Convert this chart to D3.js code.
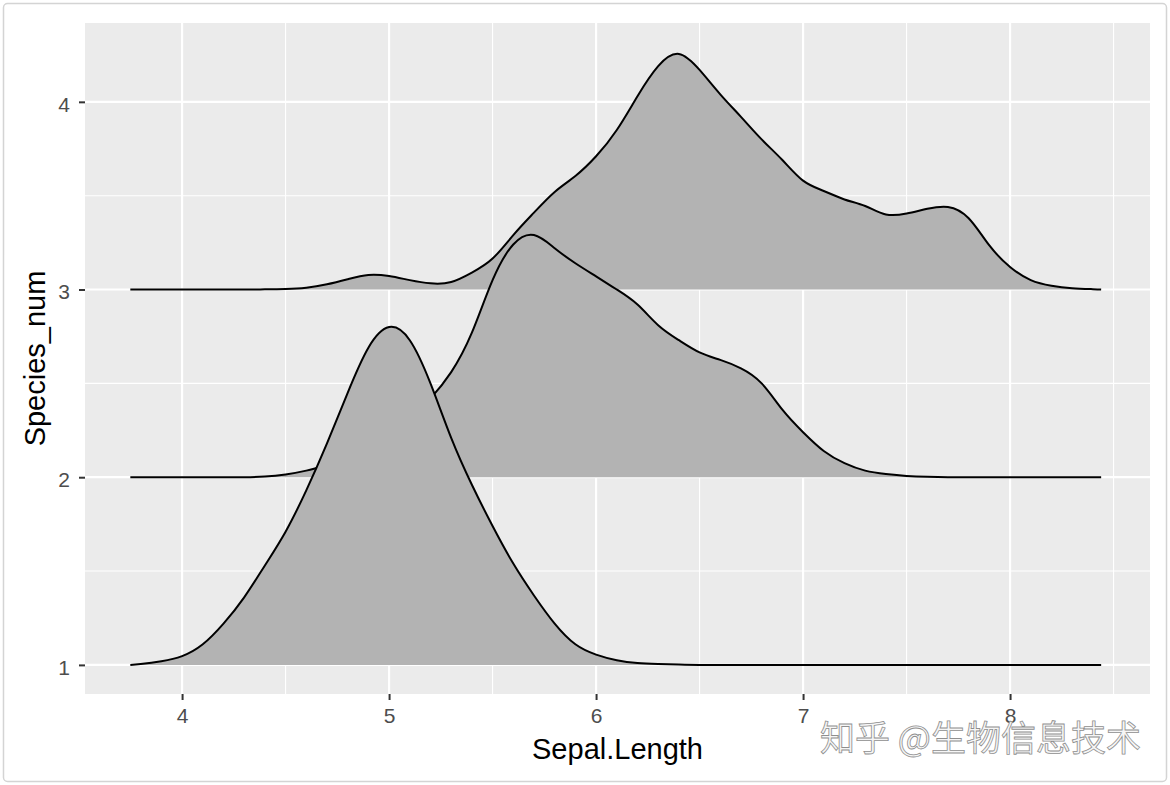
<!DOCTYPE html>
<html>
<head>
<meta charset="utf-8">
<script src="https://cdn.jsdelivr.net/npm/d3@7"></script>
<style>
  body { margin: 0; background: #fff; }
  text { font-family: "Liberation Sans", Arial, sans-serif; }
</style>
</head>
<body>
<div id="plot-area"></div>
<script>
// Ridgeline plot of iris Sepal.Length, one ridge per Species_num

// Sepal.Length positions the ridges were read at
const sepalLength = [3.75, 3.8, 3.9, 4.0, 4.1, 4.2, 4.3, 4.4, 4.5, 4.6, 4.7, 4.8, 4.9,
  5.0, 5.1, 5.2, 5.3, 5.4, 5.5, 5.6, 5.7, 5.8, 5.9, 6.0, 6.1, 6.2, 6.3, 6.4, 6.5, 6.6,
  6.7, 6.8, 6.9, 7.0, 7.1, 7.2, 7.3, 7.4, 7.5, 7.6, 7.7, 7.8, 7.9, 8.0, 8.1, 8.2, 8.3,
  8.4, 8.44];

// ridge heights above each baseline (in Species_num units)
const ridge1 = [0, 0.005, 0.02, 0.047, 0.11, 0.22, 0.36, 0.53, 0.71, 0.93, 1.18, 1.45, 1.69,
  1.80, 1.73, 1.50, 1.21, 0.96, 0.74, 0.54, 0.37, 0.22, 0.11, 0.055, 0.025, 0.01, 0.005, 0.002,
  0, 0, 0, 0, 0, 0, 0, 0, 0, 0, 0, 0, 0, 0, 0, 0, 0, 0, 0, 0, 0];
const ridge2 = [0, 0, 0, 0, 0, 0, 0, 0.004, 0.015, 0.035, 0.065, 0.10, 0.15,
  0.22, 0.31, 0.42, 0.56, 0.77, 1.05, 1.24, 1.29, 1.22, 1.14, 1.07, 1.00, 0.92, 0.81, 0.73,
  0.665, 0.625, 0.58, 0.50, 0.36, 0.24, 0.14, 0.075, 0.035, 0.017, 0.007, 0.002,
  0, 0, 0, 0, 0, 0, 0, 0, 0];
const ridge3 = [0, 0, 0, 0, 0, 0, 0, 0.001, 0.003, 0.01, 0.028, 0.055, 0.078,
  0.072, 0.05, 0.033, 0.04, 0.09, 0.165, 0.29, 0.41, 0.52, 0.605, 0.71, 0.85, 1.03, 1.19, 1.255,
  1.17, 1.04, 0.92, 0.80, 0.69, 0.58, 0.525, 0.48, 0.445, 0.40, 0.405, 0.43, 0.44, 0.38,
  0.235, 0.12, 0.05, 0.02, 0.007, 0.002, 0];

const speciesNum = [1, 2, 3];
const xTicks = [4, 5, 6, 7, 8];
const yTicks = [1, 2, 3, 4];
const xMinor = [4.5, 5.5, 6.5, 7.5, 8.5];
const yMinor = [1.5, 2.5, 3.5];

const svg = d3.select("#plot-area").
append("svg").
attr("width", 1170).
attr("height", 785);

const w = +svg.attr("width");
const h = +svg.attr("height");
const pT = 23, pR = 20, pB = 91, pL = 85; // panel padding, clockwise from top

// outer frame of the picture
svg.append("rect").
attr("x", 3.5).attr("y", 3.5).
attr("width", w - 7).attr("height", h - 7).
attr("rx", 4).
attr("fill", "white").
attr("stroke", "#d4d4d4").
attr("stroke-width", 1.5);

// scales with ggplot-like 5% expansion
const xScale = d3.scaleLinear().
domain([3.531, 8.676]).
range([pL, w - pR]);

const yScale = d3.scaleLinear().
domain([0.845, 4.42]).
range([h - pB, pT]);

// panel background
svg.append("rect").
attr("x", pL).attr("y", pT).
attr("width", w - pR - pL).attr("height", h - pB - pT).
attr("fill", "#ebebeb");

// grid lines
const grid = svg.append("g").attr("stroke", "white");
grid.selectAll(".vminor").data(xMinor).enter().append("line").
attr("x1", d => xScale(d)).attr("x2", d => xScale(d)).
attr("y1", pT).attr("y2", h - pB).attr("stroke-width", 1.1);
grid.selectAll(".hminor").data(yMinor).enter().append("line").
attr("y1", d => yScale(d)).attr("y2", d => yScale(d)).
attr("x1", pL).attr("x2", w - pR).attr("stroke-width", 1.1);
grid.selectAll(".vmajor").data(xTicks).enter().append("line").
attr("x1", d => xScale(d)).attr("x2", d => xScale(d)).
attr("y1", pT).attr("y2", h - pB).attr("stroke-width", 2.2);
grid.selectAll(".hmajor").data(yTicks).enter().append("line").
attr("y1", d => yScale(d)).attr("y2", d => yScale(d)).
attr("x1", pL).attr("x2", w - pR).attr("stroke-width", 2.2);

// ridges, top one first so lower ridges sit in front
const ridges = [ridge1, ridge2, ridge3];
const ridgeData = speciesNum.map((s, i) => ({
  base: s,
  pts: sepalLength.map((x, j) => ({ x: x, h: ridges[i][j] })) })).
reverse();

const curve = d3.curveNatural;

const area = (base) => d3.area().
curve(curve).
x(d => xScale(d.x)).
y0(yScale(base)).
y1(d => yScale(base + d.h));

const line = (base) => d3.line().
curve(curve).
x(d => xScale(d.x)).
y(d => yScale(base + d.h));

ridgeData.forEach(r => {
  const g = svg.append("g").attr("class", "ridge");
  g.append("path").
  attr("d", area(r.base)(r.pts)).
  attr("fill", "#b3b3b3");
  g.append("path").
  attr("d", line(r.base)(r.pts)).
  attr("fill", "none").
  attr("stroke", "black").
  attr("stroke-width", 2);
});

// axes
const xAxis = d3.axisBottom(xScale).tickValues(xTicks).tickSize(6).tickPadding(8).tickFormat(d3.format("d"));
const yAxis = d3.axisLeft(yScale).tickValues(yTicks).tickSize(6).tickPadding(9).tickFormat(d3.format("d"));

const gx = svg.append("g").
attr("transform", `translate(0 ${h - pB})`).
call(xAxis);
const gy = svg.append("g").
attr("transform", `translate(${pL} 0)`).
call(yAxis);

[gx, gy].forEach(g => {
  g.select(".domain").remove();
  g.selectAll(".tick line").attr("stroke", "#333").attr("stroke-width", 2);
  g.selectAll(".tick text").attr("fill", "#4d4d4d").
  style("font-size", "21px").
  style("font-family", "'Liberation Sans', Arial, sans-serif");
});
gy.selectAll(".tick text").attr("dy", "0.45em");

svg.append("text").
attr("x", (w - pL - pR) / 2 + pL).
attr("y", h - 26).
attr("text-anchor", "middle").
style("font-size", "29px").
text("Sepal.Length");

svg.append("text").
attr("transform", `translate(45 ${(h - pB - pT) / 2 + pT}) rotate(-90)`).
attr("text-anchor", "middle").
style("font-size", "29px").
text("Species_num");

// watermark
svg.append("text").
attr("x", 820).
attr("y", 751).
attr("fill", "#f6f6f6").
attr("stroke", "#8f8f8f").
attr("stroke-width", 0.8).
style("font-family", "'Noto Sans CJK SC', sans-serif").
style("font-size", "35px").
text("知乎 @生物信息技术");
</script>
</body>
</html>
